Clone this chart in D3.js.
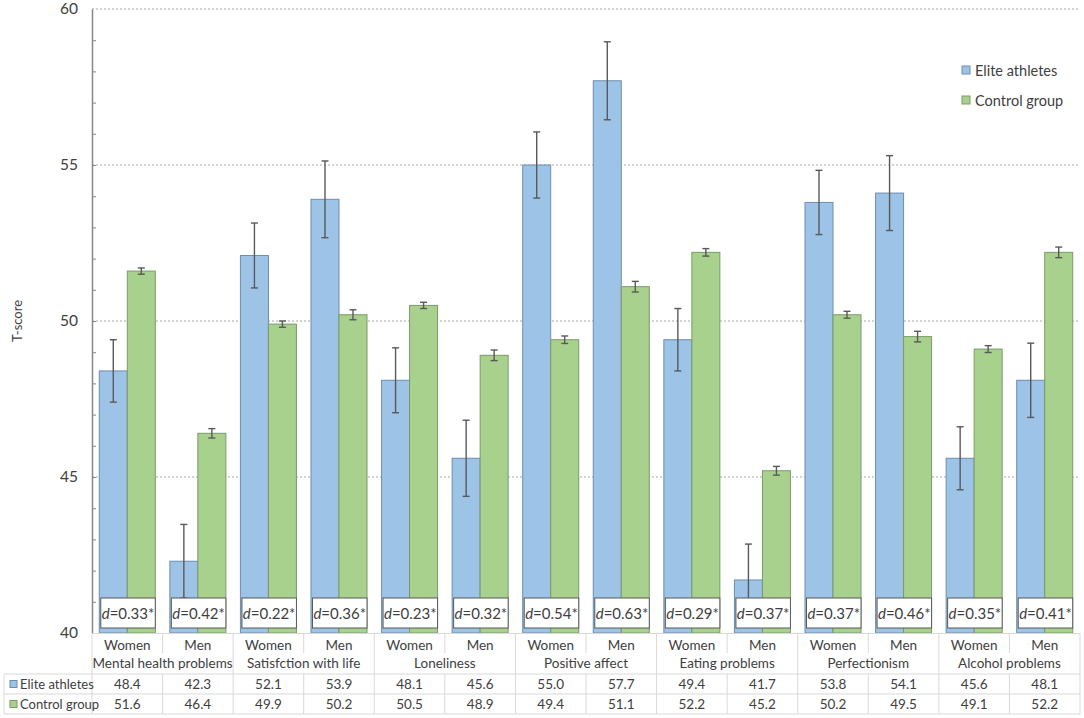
<!DOCTYPE html>
<html><head><meta charset="utf-8">
<script src="https://cdn.jsdelivr.net/npm/d3@7"></script>
<style>
body{margin:0;background:#fff;}
text{font-family:Lato,"Open Sans",sans-serif;fill:#404040;}
</style>
</head><body><svg id="c" width="1084" height="718"></svg>
<script>
const categories = ["Mental health problems","Satisfction with life","Loneliness","Positive affect","Eating problems","Perfectionism","Alcohol problems"];
const sexes = ["Women","Men"];
const seriesNames = ["Elite athletes","Control group"];
const elite = [48.4,42.3,52.1,53.9,48.1,45.6,55.0,57.7,49.4,41.7,53.8,54.1,45.6,48.1];
const control = [51.6,46.4,49.9,50.2,50.5,48.9,49.4,51.1,52.2,45.2,50.2,49.5,49.1,52.2];
const eliteErr = [1.0,1.18,1.04,1.23,1.04,1.22,1.06,1.25,1.0,1.15,1.03,1.2,1.01,1.19];
const controlErr = [0.1,0.15,0.1,0.16,0.1,0.17,0.12,0.17,0.12,0.14,0.11,0.17,0.11,0.17];
const dValues = ["0.33","0.42","0.22","0.36","0.23","0.32","0.54","0.63","0.29","0.37","0.37","0.46","0.35","0.41"];
const yTicks = [40,45,50,55,60];

(function(){
const colors = {elite:{fill:"#9dc3e6",stroke:"#6e8eae"}, control:{fill:"#a9d18e",stroke:"#7b9a68"}};
const svg = d3.select("#c");
const left=92, right=1080, plotTop=9, base=633;
const y = d3.scaleLinear().domain([40,60]).range([base,plotTop]);
const cols = d3.range(elite.length);
const x0 = d3.scaleBand().domain(cols).range([left,right]).padding(0);
const x1 = d3.scaleBand().domain(["elite","control"]).range([0,x0.bandwidth()]).paddingInner(0).paddingOuter(0.26);
const bw = x0.bandwidth();

// gridlines
svg.append("g").selectAll("line").data(yTicks.filter(t=>t>40)).join("line")
  .attr("x1",left).attr("x2",right).attr("y1",d=>y(d)).attr("y2",d=>y(d))
  .attr("stroke","#a6a6a6").attr("stroke-dasharray","2,2").attr("stroke-width",1);

// y axis
const ya = svg.append("g").attr("transform",`translate(${left},0)`)
  .call(d3.axisLeft(y).tickValues(yTicks).tickSize(0).tickPadding(14).tickFormat(d3.format("d")));
ya.select(".domain").attr("stroke","#868686").attr("stroke-width",1.5);
ya.selectAll("text").attr("font-size",15.5).attr("fill","#404040").style("font-family","Lato,'Open Sans',sans-serif");
// minor ticks
svg.append("g").attr("transform",`translate(${left},0)`)
  .call(d3.axisRight(y).tickValues(d3.range(41,60)).tickSize(4).tickFormat(""))
  .call(g=>g.select(".domain").remove())
  .selectAll("line").attr("stroke","#868686");

svg.append("text").attr("transform",`translate(17,${y(50)}) rotate(-90)`)
  .attr("text-anchor","middle").attr("dominant-baseline","central").attr("font-size",13).text("T-score");

// bars
const rows = cols.map(i=>({i, elite:elite[i], control:control[i], eErr:eliteErr[i], cErr:controlErr[i], d:dValues[i]}));
const gb = svg.append("g");
["elite","control"].forEach(k=>{
  gb.selectAll("rect."+k).data(rows).join("rect").attr("class",k)
    .attr("x",d=>x0(d.i)+x1(k)).attr("width",x1.bandwidth())
    .attr("y",d=>y(d[k])).attr("height",d=>y(40)-y(d[k]))
    .attr("fill",colors[k].fill).attr("stroke",colors[k].stroke).attr("stroke-width",1);
});
// error bars
[["elite","eErr"],["control","cErr"]].forEach(([k,e])=>{
  const g = svg.append("g").attr("stroke","#595959").attr("stroke-width",1.4);
  rows.forEach(d=>{
    const cx = x0(d.i)+x1(k)+x1.bandwidth()/2;
    const y1=y(d[k]+d[e]), y2=y(d[k]-d[e]);
    g.append("line").attr("x1",cx).attr("x2",cx).attr("y1",y1).attr("y2",y2);
    g.append("line").attr("x1",cx-3.5).attr("x2",cx+3.5).attr("y1",y1).attr("y2",y1);
    g.append("line").attr("x1",cx-3.5).attr("x2",cx+3.5).attr("y1",y2).attr("y2",y2);
  });
});
// d boxes
const gd = svg.append("g");
rows.forEach(d=>{
  const bx = x0(d.i)+x1("elite")+1.5, bwid = 2*x1.bandwidth()-1.5;
  gd.append("rect").attr("x",bx).attr("y",y(40)-35).attr("width",bwid).attr("height",30)
    .attr("fill","#fff").attr("stroke","#595959").attr("stroke-width",1);
  const t = gd.append("text").attr("x",bx+bwid/2).attr("y",y(40)-20).attr("text-anchor","middle")
    .attr("dominant-baseline","central").attr("font-size",15).attr("fill","#000");
  t.append("tspan").attr("font-style","italic").text("d");
  t.append("tspan").text("="+d.d+"*");
});

// legend
const lg = svg.append("g");
[["elite",70],["control",100]].forEach(([k,ly],j)=>{
  lg.append("rect").attr("x",962).attr("y",ly-4).attr("width",8).attr("height",8)
    .attr("fill",colors[k].fill).attr("stroke",colors[k].stroke);
  lg.append("text").attr("x",975).attr("y",ly).attr("dominant-baseline","central").attr("font-size",14.5).text(seriesNames[j]);
});

// data table
const gt = svg.append("g").attr("stroke","#d9d9d9").attr("stroke-width",1);
const rSex=645, rCat=663, rLine1=674, rLine2=694, rLine3=714, rE=684, rC=704;
gt.append("line").attr("x1",left).attr("x2",right).attr("y1",base+0.5).attr("y2",base+0.5);
[rLine1,rLine2,rLine3].forEach(yy=>gt.append("line").attr("x1",4).attr("x2",right).attr("y1",yy).attr("y2",yy));
gt.append("line").attr("x1",4).attr("x2",4).attr("y1",rLine1).attr("y2",rLine3);
d3.range(categories.length+1).forEach(g=>{
  const xx = left + g*2*bw;
  gt.append("line").attr("x1",xx).attr("x2",xx).attr("y1",base).attr("y2",rLine3);
});
categories.forEach((c,g)=>{
  const xx = x0(2*g+1);
  gt.append("line").attr("x1",xx).attr("x2",xx).attr("y1",base).attr("y2",653);
  gt.append("line").attr("x1",xx).attr("x2",xx).attr("y1",rLine1).attr("y2",rLine3);
});
const tt = svg.append("g").attr("font-size",13.5).attr("text-anchor","middle");
rows.forEach(d=>{
  const cx = x0(d.i)+bw/2;
  tt.append("text").attr("x",cx).attr("y",rSex).attr("dominant-baseline","central").text(sexes[d.i%2]);
  tt.append("text").attr("x",cx).attr("y",rE).attr("dominant-baseline","central").text(d.elite.toFixed(1));
  tt.append("text").attr("x",cx).attr("y",rC).attr("dominant-baseline","central").text(d.control.toFixed(1));
});
categories.forEach((c,g)=>{
  tt.append("text").attr("x",left+(g+0.5)*2*bw).attr("y",rCat).attr("dominant-baseline","central").text(c);
});
[["elite",rE],["control",rC]].forEach(([k,ry],j)=>{
  svg.append("rect").attr("x",10).attr("y",ry-3.5).attr("width",7).attr("height",7)
    .attr("fill",colors[k].fill).attr("stroke",colors[k].stroke);
  svg.append("text").attr("x",20).attr("y",ry).attr("dominant-baseline","central").attr("font-size",13).text(seriesNames[j]);
});
})();
</script></body></html>
